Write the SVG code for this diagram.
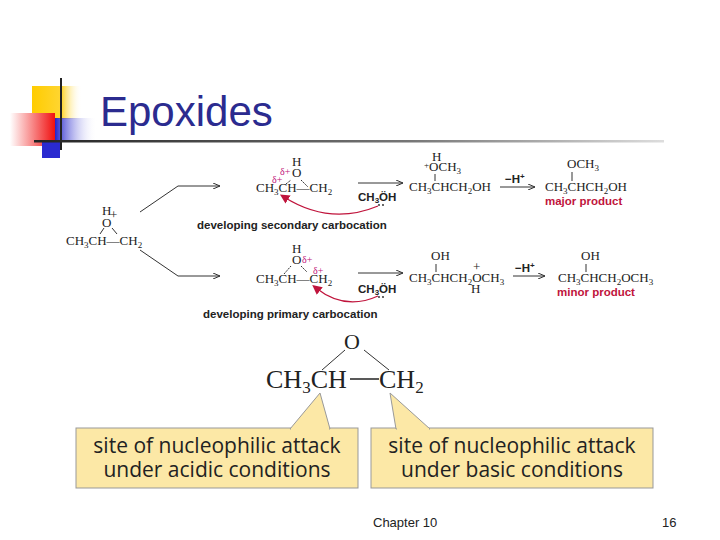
<svg xmlns="http://www.w3.org/2000/svg" width="720" height="540" viewBox="0 0 720 540">
<style>
.f{font-family:"Liberation Serif",serif;font-size:13px;fill:#222}
.s{font-family:"Liberation Sans",Arial,sans-serif;font-weight:bold;font-size:11.5px;fill:#222}
.r{fill:#c0143c}
.d{font-family:"Liberation Serif",serif;font-size:10px;fill:#c0147a}
.ln{stroke:#333;stroke-width:1;fill:none}
.box{fill:#fce8a6;stroke:#999;stroke-width:1}
.bt{font-family:"Open Sans","Liberation Sans",sans-serif;font-size:21px;fill:#222;text-anchor:middle}
</style>
<defs>
<linearGradient id="gy" x1="0" x2="1"><stop offset="0" stop-color="#ffcc00"/><stop offset="0.6" stop-color="#ffd633"/><stop offset="1" stop-color="#fff" stop-opacity="0"/></linearGradient>
<linearGradient id="gr" x1="0" x2="1"><stop offset="0" stop-color="#fff"/><stop offset="1" stop-color="#f01010"/></linearGradient>
<linearGradient id="gb" x1="0" x2="1"><stop offset="0" stop-color="#2222cc"/><stop offset="1" stop-color="#fff" stop-opacity="0"/></linearGradient>
<linearGradient id="gl" x1="0" x2="1"><stop offset="0" stop-color="#222"/><stop offset="0.6" stop-color="#777"/><stop offset="1" stop-color="#ddd"/></linearGradient>
<marker id="a" markerWidth="8" markerHeight="6" refX="7" refY="3" orient="auto"><path d="M0,0 L7,3 L0,6" fill="none" stroke="#333" stroke-width="1"/></marker>
<marker id="ra" markerWidth="8" markerHeight="8" refX="4" refY="4" orient="auto"><path d="M0,0 L8,4 L0,8 Z" fill="#c0143c"/></marker>
</defs>
<g id="logo">
<rect x="32" y="86" width="50" height="33" fill="url(#gy)"/>
<rect x="55" y="118" width="42" height="24" fill="url(#gb)"/>
<rect x="10" y="113" width="45" height="33" fill="url(#gr)"/>
<rect x="42" y="142" width="18" height="16" fill="#2a2ad0"/>
<line x1="61" y1="78" x2="61" y2="150" stroke="#222" stroke-width="2"/>
<rect x="34" y="140" width="630" height="2.5" fill="url(#gl)"/>
<text x="100" y="126" font-family="'Liberation Sans',Arial,sans-serif" font-size="42" fill="#2b2b8f">Epoxides</text>
</g>
<g id="start">
<text class="f" x="102" y="215">H</text><text class="f" x="102" y="227">O</text><text class="f" x="110" y="219" font-size="8">+</text>
<text class="f" x="66" y="245">CH<tspan font-size="9" dy="3">3</tspan><tspan dy="-3">CH—CH</tspan><tspan font-size="9" dy="3">2</tspan></text>
<path class="ln" d="M100,234 L104,228 M112,228 L117,234"/>
</g>
<g id="connectors">
<path class="ln" d="M140,212 L178,186 L220,186" marker-end="url(#a)"/>
<path class="ln" d="M140,250 L178,276 L220,276" marker-end="url(#a)"/>
<line class="ln" x1="358" y1="183" x2="403" y2="183" marker-end="url(#a)"/>
<line class="ln" x1="358" y1="273" x2="403" y2="273" marker-end="url(#a)"/>
<line class="ln" x1="500" y1="187" x2="535" y2="187" marker-end="url(#a)"/>
<line class="ln" x1="513" y1="276" x2="545" y2="276" marker-end="url(#a)"/>
<path d="M378,206 Q330,226 284,197" fill="none" stroke="#c0143c" stroke-width="1.2" marker-end="url(#ra)"/>
<path d="M378,296 Q345,311 316,288" fill="none" stroke="#c0143c" stroke-width="1.2" marker-end="url(#ra)"/>
</g>
<g id="int1">
<text class="f" x="292" y="166">H</text>
<text class="d" x="280" y="175">δ+</text><text class="f" x="292" y="177">O</text>
<text class="d" x="272" y="183">δ+</text>
<text class="f" x="256" y="192">CH<tspan font-size="9" dy="3">3</tspan><tspan dy="-3">CH—CH</tspan><tspan font-size="9" dy="3">2</tspan></text>
<path class="ln" d="M286,184 L291,180 M301,180 L308,187" stroke-dasharray="2,1"/>
<text class="s" x="358" y="201">CH<tspan font-size="8" dy="2">3</tspan><tspan dy="-2">ÖH</tspan></text>
<circle cx="379" cy="205" r="0.9" fill="#222"/><circle cx="383" cy="205" r="0.9" fill="#222"/>
<text class="s" x="197" y="229">developing secondary carbocation</text>
</g>
<g id="prod1">
<text class="f" x="432" y="161" font-size="11">H</text>
<text class="f" x="424" y="171"><tspan font-size="9" dy="-3">+</tspan><tspan dy="3">OCH</tspan><tspan font-size="9" dy="3">3</tspan></text>
<line class="ln" x1="435" y1="174" x2="435" y2="181"/>
<text class="f" x="409" y="191">CH<tspan font-size="9" dy="3">3</tspan><tspan dy="-3">CHCH</tspan><tspan font-size="9" dy="3">2</tspan><tspan dy="-3">OH</tspan></text>
<text class="s" x="505" y="183">−H<tspan font-size="8" dy="-4">+</tspan></text>
<text class="f" x="567" y="168">OCH<tspan font-size="9" dy="3">3</tspan></text>
<line class="ln" x1="572" y1="172" x2="572" y2="181"/>
<text class="f" x="545" y="191">CH<tspan font-size="9" dy="3">3</tspan><tspan dy="-3">CHCH</tspan><tspan font-size="9" dy="3">2</tspan><tspan dy="-3">OH</tspan></text>
<text class="s r" x="545" y="205">major product</text>
</g>
<g id="int2">
<text class="f" x="292" y="253">H</text>
<text class="f" x="292" y="264">O</text><text class="d" x="302" y="263">δ+</text>
<text class="d" x="313" y="274">δ+</text>
<text class="f" x="256" y="283">CH<tspan font-size="9" dy="3">3</tspan><tspan dy="-3">CH—CH</tspan><tspan font-size="9" dy="3">2</tspan></text>
<path class="ln" d="M284,274 L291,266 M301,266 L307,272" stroke-dasharray="2,1"/>
<text class="s" x="358" y="293">CH<tspan font-size="8" dy="2">3</tspan><tspan dy="-2">ÖH</tspan></text>
<circle cx="379" cy="297" r="0.9" fill="#222"/><circle cx="383" cy="297" r="0.9" fill="#222"/>
<text class="s" x="203" y="318">developing primary carbocation</text>
</g>
<g id="prod2">
<text class="f" x="431" y="260">OH</text>
<line class="ln" x1="436" y1="264" x2="436" y2="272"/>
<text class="f" x="409" y="282">CH<tspan font-size="9" dy="3">3</tspan><tspan dy="-3">CHCH</tspan><tspan font-size="9" dy="3">2</tspan><tspan dy="-3">OCH</tspan><tspan font-size="9" dy="3">3</tspan></text>
<text class="f" x="473" y="271" font-size="9">+</text>
<text class="f" x="471" y="293" font-size="11">H</text>
<text class="s" x="515" y="272">−H<tspan font-size="8" dy="-4">+</tspan></text>
<text class="f" x="581" y="260">OH</text>
<line class="ln" x1="586" y1="264" x2="586" y2="272"/>
<text class="f" x="558" y="282">CH<tspan font-size="9" dy="3">3</tspan><tspan dy="-3">CHCH</tspan><tspan font-size="9" dy="3">2</tspan><tspan dy="-3">OCH</tspan><tspan font-size="9" dy="3">3</tspan></text>
<text class="s r" x="557" y="296">minor product</text>
</g>
<g id="epoxide">
<text x="344" y="349" font-family="'Liberation Serif',serif" font-size="22" fill="#222">O</text>
<path class="ln" d="M322,370 L345,350 M364,350 L389,370" stroke-width="1.2"/>
<text x="266" y="388" font-family="'Liberation Serif',serif" font-size="26" fill="#222">CH<tspan font-size="17" dy="5">3</tspan><tspan dy="-5">CH</tspan></text>
<line x1="350" y1="379" x2="379" y2="379" stroke="#222" stroke-width="1.5"/>
<text x="379" y="388" font-family="'Liberation Serif',serif" font-size="26" fill="#222">CH<tspan font-size="17" dy="5">2</tspan></text>
</g>
<g id="box1">
<rect class="box" x="76" y="428" width="282" height="60"/>
<path d="M290,429 L320,393 L330,429 Z" fill="#fce8a6" stroke="#999"/>
<rect x="291" y="428" width="38" height="2" fill="#fce8a6"/>
<text class="bt" x="217" y="453">site of nucleophilic attack</text>
<text class="bt" x="217" y="477">under acidic conditions</text>
</g>
<g id="box2">
<rect class="box" x="371" y="428" width="282" height="60"/>
<path d="M396,429 L390,393 L430,429 Z" fill="#fce8a6" stroke="#999"/>
<rect x="397" y="428" width="32" height="2" fill="#fce8a6"/>
<text class="bt" x="512" y="453">site of nucleophilic attack</text>
<text class="bt" x="512" y="477">under basic conditions</text>
</g>
<g id="footer">
<text x="373" y="527" font-family="'Liberation Sans',Arial,sans-serif" font-size="13" fill="#222">Chapter 10</text>
<text x="662" y="527" font-family="'Liberation Sans',Arial,sans-serif" font-size="13" fill="#222">16</text>
</g>
</svg>
